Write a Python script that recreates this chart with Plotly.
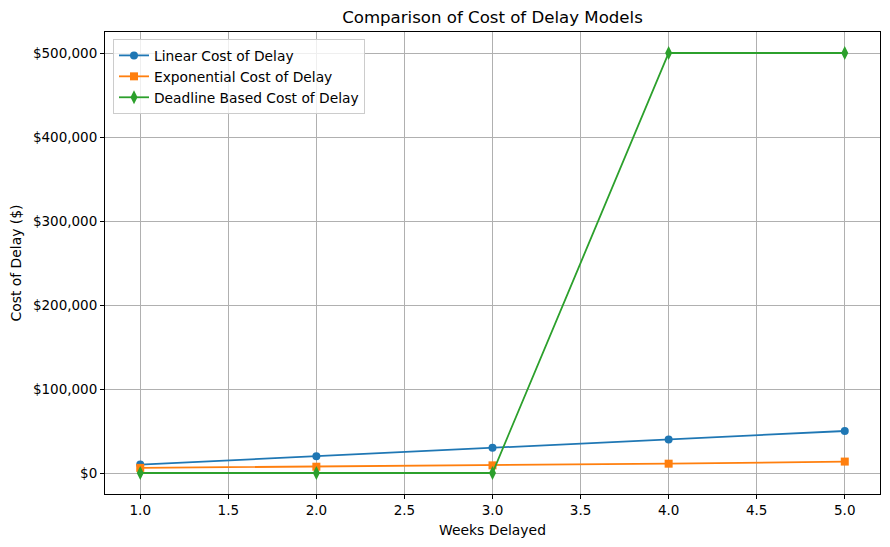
import plotly.graph_objects as go

weeks = [1, 2, 3, 4, 5]
linear_cost = [10000, 20000, 30000, 40000, 50000]
exponential_cost = [6100, 7500, 9100, 11100, 13600]
deadline_cost = [0, 0, 0, 500000, 500000]

x_ticks = [1.0, 1.5, 2.0, 2.5, 3.0, 3.5, 4.0, 4.5, 5.0]
y_ticks = [0, 100000, 200000, 300000, 400000, 500000]

# page body has an 8px margin, so the figure is drawn at (8, 8)
W, H = 882, 539
L, R, T, B = 97, 10, 24, 53

fig = go.Figure()
fig.add_trace(go.Scatter(x=weeks, y=linear_cost, mode="lines+markers", name="Linear Cost of Delay",
                         line=dict(color="#1f77b4", width=1.8), marker=dict(symbol="circle", size=8)))
fig.add_trace(go.Scatter(x=weeks, y=exponential_cost, mode="lines+markers", name="Exponential Cost of Delay",
                         line=dict(color="#ff7f0e", width=1.8), marker=dict(symbol="square", size=8)))
fig.add_trace(go.Scatter(x=weeks, y=deadline_cost, mode="lines+markers", name="Deadline Based Cost of Delay",
                         line=dict(color="#2ca02c", width=1.8), marker=dict(symbol="diamond-tall", size=10)))

fig.update_layout(
    width=W, height=H,
    margin=dict(l=L, r=R, t=T, b=B),
    paper_bgcolor="white", plot_bgcolor="white",
    font=dict(family="DejaVu Sans", size=13.5, color="black"),
    title=dict(text="Comparison of Cost of Delay Models", x=(L + W - R) / 2 / W, xanchor="center",
               y=1 - 9 / H, yanchor="middle", font=dict(size=16.6)),
    legend=dict(x=0.0103, y=0.985, xanchor="left", yanchor="top",
                bgcolor="rgba(255,255,255,0.8)", bordercolor="#cccccc", borderwidth=1,
                font=dict(size=13.8), tracegroupgap=0),
    showlegend=True,
)
fig.update_xaxes(range=[0.8, 5.2], tickvals=x_ticks, ticktext=[f"{v:.1f}" for v in x_ticks],
                 showgrid=True, gridcolor="#b0b0b0", gridwidth=1,
                 showline=True, linecolor="black", linewidth=1, mirror=True,
                 ticks="outside", ticklen=4, tickcolor="black", zeroline=False,
                 automargin=False, tickfont=dict(size=13.5),
                 title=dict(text="Weeks Delayed", standoff=8, font=dict(size=13.9)))
fig.update_yaxes(range=[-25000, 525000], tickvals=y_ticks,
                 ticktext=["$" + format(v, ",") for v in y_ticks],
                 showgrid=True, gridcolor="#b0b0b0", gridwidth=1,
                 showline=True, linecolor="black", linewidth=1, mirror=True,
                 ticks="outside", ticklen=4, tickcolor="black", zeroline=False,
                 automargin=False, tickfont=dict(size=13.5),
                 title=dict(text="Cost of Delay ($)", standoff=8, font=dict(size=13.9)))

fig.write_html("out.html")
